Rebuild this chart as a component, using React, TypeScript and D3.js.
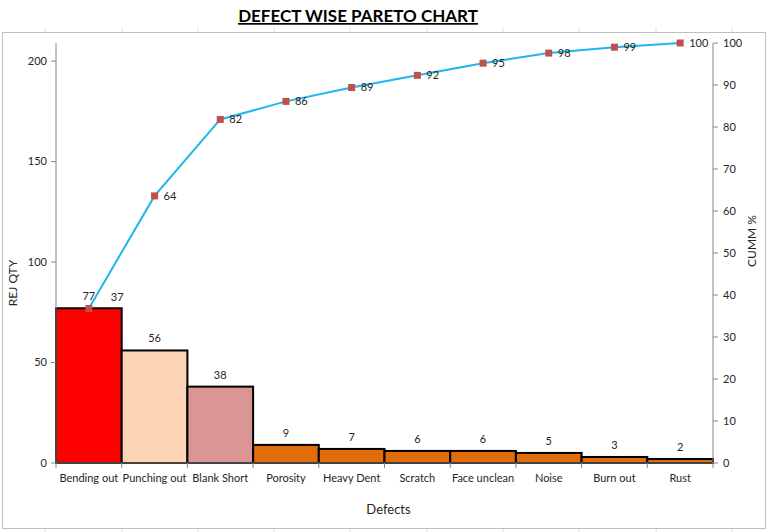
import { useMemo } from "react";
import { scaleBand, scaleLinear, line } from "d3";

const totalWidth = 768;
const totalHeight = 532;
const plotLeft = 56;
const plotRight = 713;
const plotTop = 43;
const plotBottom = 463;
const font = "Lato, 'Open Sans', sans-serif";

const defects = [
  "Bending out",
  "Punching out",
  "Blank Short",
  "Porosity",
  "Heavy Dent",
  "Scratch",
  "Face unclean",
  "Noise",
  "Burn out",
  "Rust",
];
const rejQty = [77, 56, 38, 9, 7, 6, 6, 5, 3, 2];
const cummPct = [36.8, 63.6, 81.8, 86.1, 89.4, 92.3, 95.2, 97.6, 99.0, 100];
const barColors = [
  "#FF0000",
  "#FBD5B5",
  "#D99694",
  "#E26B0A",
  "#E26B0A",
  "#E26B0A",
  "#E26B0A",
  "#E26B0A",
  "#E26B0A",
  "#E26B0A",
];
const leftTicks = [0, 50, 100, 150, 200];
const rightTicks = [0, 10, 20, 30, 40, 50, 60, 70, 80, 90, 100];
const cellColumns = [45, 122, 198, 274, 350, 427, 503, 579, 656, 732];

const App = () => {
  const { xScale, yLeft, yRight, linePath } = useMemo(() => {
    const total = rejQty.reduce((a, b) => a + b, 0);
    const xScale = scaleBand<string>()
      .domain(defects)
      .range([plotLeft, plotRight])
      .padding(0);
    const yLeft = scaleLinear().domain([0, total]).range([plotBottom, plotTop]);
    const yRight = scaleLinear().domain([0, 100]).range([plotBottom, plotTop]);
    const linePath = line<number>()
      .x((_, i) => (xScale(defects[i]) ?? 0) + xScale.bandwidth() / 2)
      .y((d) => yRight(d))(cummPct);
    return { xScale, yLeft, yRight, linePath };
  }, []);

  const bw = xScale.bandwidth();
  const axisColor = "#868686";
  const textColor = "#000000";

  return (
    <svg
      viewBox={`0 0 ${totalWidth} ${totalHeight}`}
      width={totalWidth}
      height={totalHeight}
      style={{ position: "absolute", left: 0, top: 0, background: "#fff" }}
      fontFamily={font}
    >
      {/* faint spreadsheet cell lines peeking around the chart */}
      {cellColumns.map((cx) => (
        <g key={cx} stroke="#E0E0E0" strokeWidth={1}>
          <line x1={cx} x2={cx} y1={27} y2={32} />
          <line x1={cx} x2={cx} y1={529} y2={532} />
        </g>
      ))}
      <rect
        x={2.5}
        y={32.5}
        width={763}
        height={496}
        fill="#fff"
        stroke="#BFBFBF"
        strokeWidth={1}
      />

      <text
        x={358}
        y={22}
        textAnchor="middle"
        fontSize={17}
        fontWeight="bold"
        textDecoration="underline"
        fill={textColor}
      >
        DEFECT WISE PARETO CHART
      </text>

      {/* bars */}
      {rejQty.map((v, i) => (
        <rect
          key={defects[i]}
          x={xScale(defects[i])}
          y={yLeft(v)}
          width={bw}
          height={plotBottom - yLeft(v)}
          fill={barColors[i]}
          stroke="#000"
          strokeWidth={2}
        />
      ))}
      {rejQty.map((v, i) => (
        <text
          key={`bl-${i}`}
          x={(xScale(defects[i]) ?? 0) + bw / 2}
          y={yLeft(v) - 8}
          textAnchor="middle"
          fontSize={11}
          fill="#262626"
        >
          {v}
        </text>
      ))}

      {/* left axis */}
      <line
        x1={plotLeft}
        x2={plotLeft}
        y1={plotTop}
        y2={plotBottom}
        stroke={axisColor}
      />
      {leftTicks.map((t) => (
        <g key={`l-${t}`}>
          <line
            x1={plotLeft - 5}
            x2={plotLeft}
            y1={yLeft(t)}
            y2={yLeft(t)}
            stroke={axisColor}
          />
          <text
            x={plotLeft - 9}
            y={yLeft(t)}
            dy="0.35em"
            textAnchor="end"
            fontSize={11}
            fill="#262626"
          >
            {t}
          </text>
        </g>
      ))}

      {/* right axis */}
      <line
        x1={plotRight}
        x2={plotRight}
        y1={plotTop}
        y2={plotBottom}
        stroke={axisColor}
      />
      {rightTicks.map((t) => (
        <g key={`r-${t}`}>
          <line
            x1={plotRight}
            x2={plotRight + 5}
            y1={yRight(t)}
            y2={yRight(t)}
            stroke={axisColor}
          />
          <text
            x={plotRight + 10}
            y={yRight(t)}
            dy="0.35em"
            textAnchor="start"
            fontSize={11}
            fill="#262626"
          >
            {t}
          </text>
        </g>
      ))}

      {/* bottom axis */}
      <line
        x1={plotLeft}
        x2={plotRight}
        y1={plotBottom}
        y2={plotBottom}
        stroke={axisColor}
      />
      {defects.map((d, i) => (
        <g key={`x-${d}`}>
          <line
            x1={xScale(d)}
            x2={xScale(d)}
            y1={plotBottom}
            y2={plotBottom + 5}
            stroke={axisColor}
          />
          {i === defects.length - 1 && (
            <line
              x1={plotRight}
              x2={plotRight}
              y1={plotBottom}
              y2={plotBottom + 5}
              stroke={axisColor}
            />
          )}
          <text
            x={(xScale(d) ?? 0) + bw / 2}
            y={plotBottom + 19}
            textAnchor="middle"
            fontSize={11}
            fill="#262626"
          >
            {d}
          </text>
        </g>
      ))}

      {/* cumulative line */}
      {linePath && (
        <path d={linePath} fill="none" stroke="#1FB5EE" strokeWidth={2} />
      )}
      {cummPct.map((p, i) => {
        const cx = (xScale(defects[i]) ?? 0) + bw / 2;
        const cy = yRight(p);
        const first = i === 0;
        return (
          <g key={`m-${i}`}>
            <rect
              x={cx - 3.5}
              y={cy - 3.5}
              width={7}
              height={7}
              fill="#C0504D"
            />
            <text
              x={first ? cx + 22 : cx + 9}
              y={first ? cy - 11 : cy}
              dy="0.35em"
              textAnchor="start"
              fontSize={11}
              fill="#262626"
            >
              {Math.round(p)}
            </text>
          </g>
        );
      })}

      {/* axis titles */}
      <text
        transform={`translate(17, ${(plotTop + plotBottom) / 2 + 30}) rotate(-90)`}
        textAnchor="middle"
        fontSize={12}
        fill="#262626"
      >
        REJ QTY
      </text>
      <text
        transform={`translate(756, ${(plotTop + plotBottom) / 2 - 12}) rotate(-90)`}
        textAnchor="middle"
        fontSize={12}
        fill="#262626"
      >
        CUMM %
      </text>
      <text
        x={(plotLeft + plotRight) / 2 + 4}
        y={514}
        textAnchor="middle"
        fontSize={13}
        fill="#262626"
      >
        Defects
      </text>
    </svg>
  );
};

export default App;
